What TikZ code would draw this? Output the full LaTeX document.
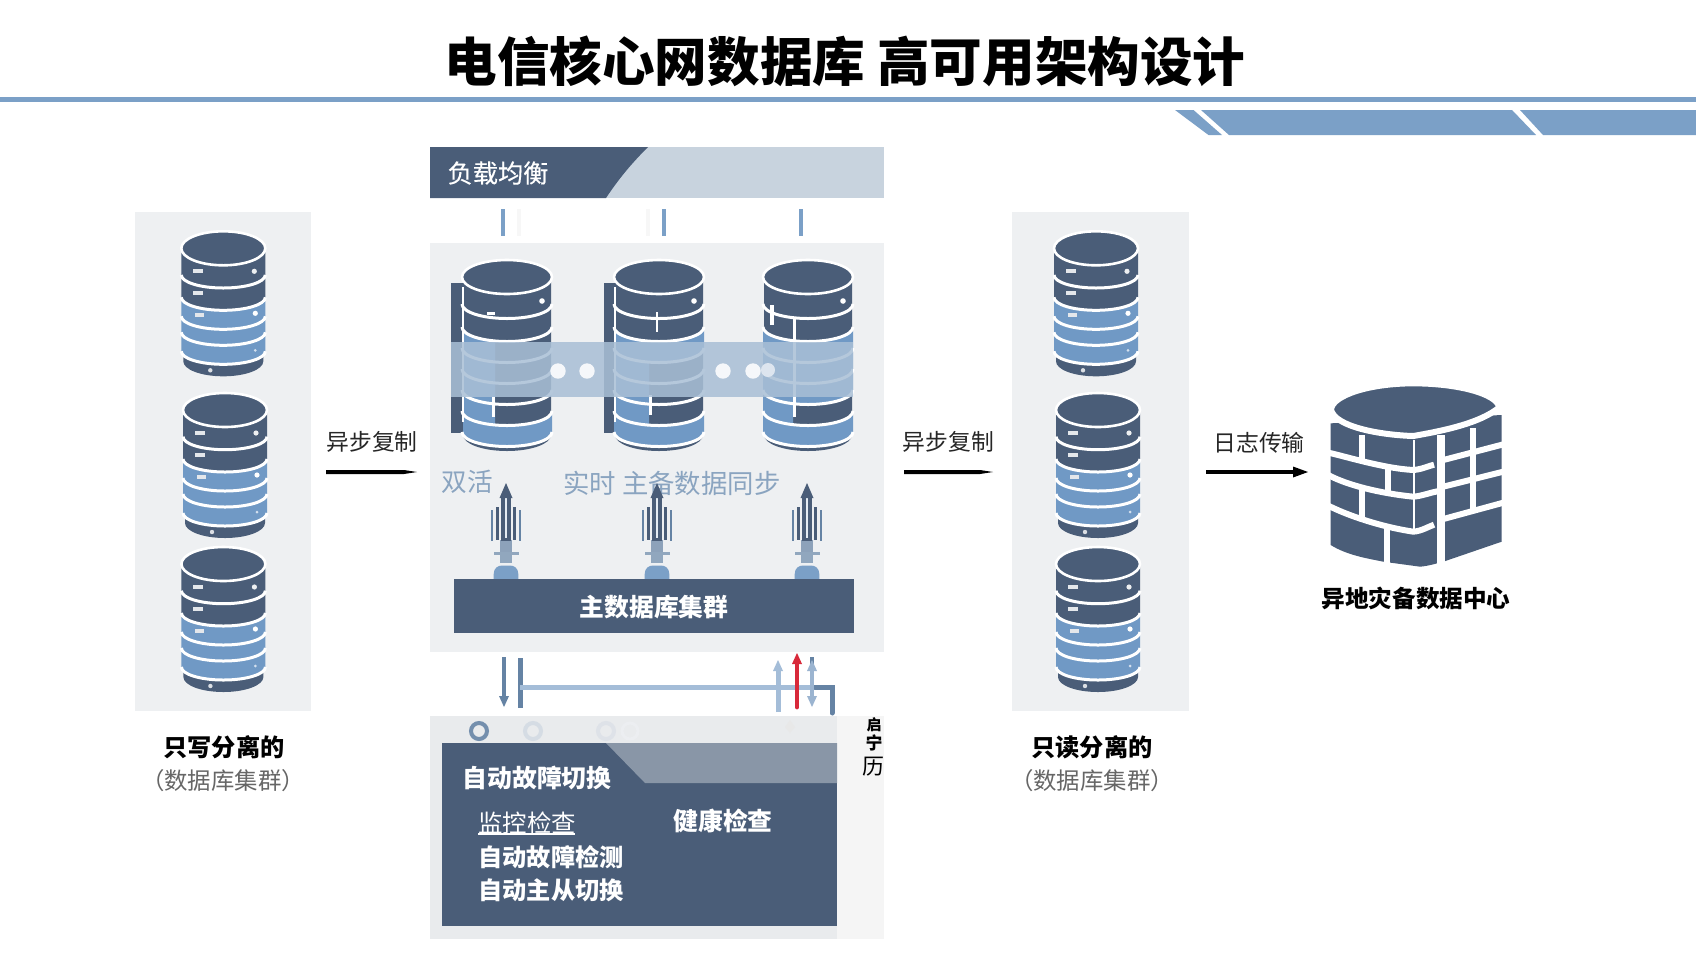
\documentclass[tikz,border=0pt]{standalone}
\usepackage{fontspec}
\setmainfont{Noto Sans CJK SC}
\newfontfamily\medfont[FakeBold=0.35]{Noto Sans CJK SC}
\definecolor{navy}{HTML}{4A5D78}
\definecolor{steel}{HTML}{7099C5}
\definecolor{rule}{HTML}{7BA0C7}
\definecolor{panel}{HTML}{EEF0F2}
\definecolor{lbar}{HTML}{C8D3DE}
\definecolor{wash}{HTML}{A9BFD6}
\definecolor{mute}{HTML}{8AA4C0}
\definecolor{wire}{HTML}{6583A4}
\definecolor{pale}{HTML}{A4BDD8}
\definecolor{alarm}{HTML}{D8293A}
\tikzset{
  panelbox/.style={fill=panel,draw=none},
  lbl/.style={inner sep=0pt,text=black!85,font=\fontsize{11.4}{13}\selectfont},
  hd/.style={inner sep=0pt,text=black,font=\fontsize{12.1}{14}\selectfont\bfseries},
  sub/.style={inner sep=0pt,text=black!60,font=\fontsize{11.7}{13}\selectfont},
  wt/.style={inner sep=0pt,text=white,font=\fontsize{12.4}{14}\selectfont\bfseries},
  wr/.style={inner sep=0pt,text=white,font=\fontsize{12.2}{14}\selectfont},
  crop/.style={inner sep=0pt,text=black},
}
\newcommand\ArcLR[3]{(-#1,#2) .. controls ({-#1},{#2+.5523*#3}) and ({-.5523*#1},{#2+#3}) .. (0,{#2+#3}) .. controls ({.5523*#1},{#2+#3}) and ({#1},{#2+.5523*#3}) .. ({#1},{#2})}
\newcommand\sidecyl[2]{%
\begin{scope}[shift={(#1,#2)}]
  \fill[navy] (-40,0) -- \ArcLR{40}{113}{15} -- (40,0) -- cycle;
  \fill[steel] (-42,49) -- \ArcLR{42}{103}{13} -- (42,49) -- cycle;
  \fill[navy] (-42,0) -- \ArcLR{42}{49}{13} -- (42,0) -- cycle;
  \foreach \e in {26.7,49,68,84,103}{
    \draw[white,line width=1.5pt] \ArcLR{42}{\e}{13};
  }
  \filldraw[navy,draw=white,line width=1.3pt] (0,0) ellipse[x radius=42,y radius=17];
  \fill[white!85!navy] (-30,21) rectangle (-20,25);
  \fill[white!85!navy] (-30,43) rectangle (-20,47);
  \fill[white!85!navy] (-28,65) rectangle (-19,69);
  \fill[white!90!navy] (31,23) circle[radius=2.6];
  \fill[white] (32,65) circle[radius=2.6];
  \fill[white!70!steel] (32,102) circle[radius=1.5];
  \fill[white!80!navy] (-13,122) circle[radius=2.2];
\end{scope}}
\newcommand\midband[6]{% xl xr e1 e2 colour R
  \begin{scope}\clip (#1,-30) rectangle (#2,220);
  \fill[#5] (-#6,#3) .. controls ({-#6},{#3+8}) and ({-.55*#6},{#3+14.5}) .. (0,{#3+14.5}) .. controls ({.55*#6},{#3+14.5}) and ({#6},{#3+8}) .. ({#6},{#3}) -- ({#6},{#4}) .. controls ({#6},{#4+8}) and ({.55*#6},{#4+14.5}) .. (0,{#4+14.5}) .. controls ({-.55*#6},{#4+14.5}) and ({-#6},{#4+8}) .. ({-#6},{#4}) -- cycle;
  \end{scope}}
\newcommand\midlines[1]{%
  \foreach \e in {27,50,71,92,113,134,155}{
    \draw[white,line width=1.5pt] \ArcLR{#1}{\e}{14.5};
  }
  \filldraw[navy,draw=white,line width=1.3pt] (0,0) ellipse[x radius=#1,y radius=17];
  \fill[white] (35,24) circle[radius=2.8];
}
\newcommand\jack[1]{%
\begin{scope}[shift={(#1,0)}]
  \fill[rule] (-12.3,579) -- (-12.3,574) .. controls (-12.3,568) and (-8,565.5) .. (-4,565.5) -- (4,565.5) .. controls (8,565.5) and (12.3,568) .. (12.3,574) -- (12.3,579) -- cycle;
  \fill[wash!75!navy] (-6,555) rectangle (6,563);
  \fill[wash!75!navy] (-12.5,551.5) rectangle (12.5,555);
  \fill[wash!70!navy] (-6,540) rectangle (6,551.5);
  \fill[navy] (-5,498) rectangle (5,541);
  \fill[white!70!wash] (-1,498) rectangle (1,538);
  \fill[navy] (0,483) -- (6.5,498) -- (-6.5,498) -- cycle;
  \fill[navy] (-9.8,507) rectangle (-7.4,540);
  \fill[navy] (7.4,507) rectangle (9.8,540);
  \fill[wire] (-14.6,510) rectangle (-13,541);
  \fill[wire] (13,510) rectangle (14.6,541);
\end{scope}}
\begin{document}
\begin{tikzpicture}[x=0.5pt,y=-0.5pt]
\useasboundingbox (0,0) rectangle (1696,960);
\fill[white] (0,0) rectangle (1696,960);
% header
\node[inner sep=0pt,text=black,font=\fontsize{26.3}{30}\selectfont\bfseries] (title) at (845,61) {电信核心网数据库 高可用架构设计};
\fill[rule] (0,97) rectangle (1696,101.5);
\fill[rule] (1175,110) -- (1193.5,110) -- (1222,135) -- (1208.5,135) -- cycle;
\fill[rule] (1201,110) -- (1512,110) -- (1536,135) -- (1229,135) -- cycle;
\fill[rule] (1520,110) -- (1696,110) -- (1696,135) -- (1543,135) -- cycle;
% panels
\fill[panelbox] (135,212) rectangle (311,711);
\fill[panelbox] (1012,212) rectangle (1189,711);
\fill[panelbox] (430,243) rectangle (884,652);
% left and right stacks
\sidecyl{223.3}{248.3}\sidecyl{225}{410}\sidecyl{223.4}{564}
\sidecyl{1096}{248.3}\sidecyl{1098}{410}\sidecyl{1098}{564}
% load balancer bar
\fill[lbar] (430,147) rectangle (884,198);
\fill[navy] (430,147) -- (648,147) .. controls (630,165) and (618,180) .. (606,198) -- (430,198) -- cycle;
\node[inner sep=0pt,text=white,font=\fontsize{12.6}{14}\selectfont\medfont] (lb) at (498,173) {负载均衡};
\foreach \tx in {519,648}{\fill[black!3] (\tx-2,209) rectangle (\tx+2,236);}
\foreach \tx in {503,664,801}{\fill[rule] (\tx-2,209) rectangle (\tx+2,236);}
% centre cylinders
\fill[navy] (451,283) rectangle (464,433);
\fill[navy] (604,283) rectangle (617,433);
\begin{scope}[shift={(507,277)}]
  \fill[navy] (-44,0) -- \ArcLR{44}{158}{16} -- (44,0) -- cycle;
  \midband{-44}{-12}{50}{134}{steel}{45}
  \midband{-44}{45}{134}{155}{steel}{45}
  \midlines{45}
  \fill[white] (-45,10) rectangle (-43,145);
  \fill[white] (-15,120) rectangle (-12.5,140);
  \fill[white] (-20,35) rectangle (-12,38);
\end{scope}
\begin{scope}[shift={(659,277)}]
  \fill[navy] (-44,0) -- \ArcLR{44}{158}{16} -- (44,0) -- cycle;
  \midband{-45}{45}{50}{71}{steel}{45}
  \midband{-45}{-10}{71}{134}{steel}{45}
  \midband{-45}{45}{134}{155}{steel}{45}
  \midlines{45}
  \fill[white] (-45,10) rectangle (-43,145);
  \fill[white] (-3,35) rectangle (-1,55);
  \fill[white] (-10,118) rectangle (-7,138);
\end{scope}
\begin{scope}[shift={(808,277)}]
  \fill[navy] (-44,0) -- \ArcLR{44}{158}{16} -- (44,0) -- cycle;
  \midband{-45}{45}{50}{113}{steel}{45}
  \midband{-45}{-15}{113}{134}{steel}{45}
  \midband{-45}{45}{134}{155}{steel}{45}
  \midlines{45}
  \fill[white] (-38,28) rectangle (-34,48);
  \fill[white] (-15,40) rectangle (-12.5,140);
\end{scope}
% sync band
\fill[wash,opacity=.86] (451,342) rectangle (853,397);
\foreach \dx in {558,587,723,753}{\fill[white!88!wash] (\dx,371) circle[radius=7.7];}
\fill[white!60!wash] (768,370) circle[radius=7];
% sync labels
\node[inner sep=0pt,text=mute,font=\fontsize{12.8}{15}\selectfont] (dual) at (467,482) {双活};
\node[inner sep=0pt,text=mute,font=\fontsize{13.2}{15}\selectfont] (sync) at (672,483) {实时 主备数据同步};
% cluster
\jack{506}\jack{657}\jack{807}
\node[fill=navy,minimum width=200pt,minimum height=27pt,inner sep=0pt] (cluster) at (654,606) {};
\node[wt] (clusterlabel) at (654,607) {主数据库集群};
% failover box
\fill[panel!98!black] (430,716) rectangle (884,939);
\fill[black!4] (837,716) rectangle (884,939);
\draw[wire!90!white,line width=2pt] (479,731) circle[radius=8];
\draw[color={rgb,255:red,213;green,220;blue,228},line width=2pt] (533,731) circle[radius=8];
\draw[color={rgb,255:red,222;green,226;blue,232},line width=2pt] (606,731) circle[radius=8];
\draw[color={rgb,255:red,236;green,238;blue,241},line width=1.5pt] (630,731) circle[radius=8];
\fill[black!9] (790,720) -- (795,727) -- (790,733) -- (785,727) -- cycle;
\fill[navy] (442,743) rectangle (837,926);
\fill[white!35!navy] (606,743) -- (645,783) -- (837,783) -- (837,743) -- cycle;
\node[wt] (foheader) at (537,778) {自动故障切换};
\node[wr,anchor=west] (mon) at (478,823) {监控检查};
\draw[white,line width=.6pt] (478,834) -- (575,834);
\node[wt,font=\fontsize{12.4}{14}\selectfont\bfseries] (health) at (723,821) {健康检查};
\node[wr,anchor=west,font=\fontsize{12.1}{14}\selectfont\bfseries] (det) at (478,857) {自动故障检测};
\node[wr,anchor=west,font=\fontsize{12.1}{14}\selectfont\bfseries] (sw) at (478,890) {自动主从切换};
% connectors between cluster and failover box
\coordinate (a1s) at (504,657); \coordinate (a1e) at (504,707);
\coordinate (a2s) at (520,658); \coordinate (a2e) at (520,708);
\coordinate (a3c) at (832,687);
\coordinate (a3e) at (832,713);
\draw[wire,line width=2.2pt] (a1s) -- (504,698);
\fill[wire] (a1e) -- (499,696) -- (509,696) -- cycle;
\draw[wire,line width=2.5pt] (a2s) -- (a2e);
\draw[pale,line width=2.5pt] (a2e |- a3c) -- (815,687);
\draw[wire,line width=2.5pt,line cap=round] (815,687) -- (a3c) -- (a3e);
\draw[pale,line width=2.5pt] (778,712) -- (778,668);
\fill[pale] (778,660) -- (773,671) -- (783,671) -- cycle;
\draw[alarm,line width=2.4pt,line cap=round] (797,707) -- (797,660);
\fill[alarm] (797,653) -- (792,664) -- (802,664) -- cycle;
\draw[wire,line width=2.4pt] (812,657) -- (812,670);
\draw[pale!85!wire,line width=2.4pt] (812,664) -- (812,698);
\fill[pale!85!wire] (812,660) -- (807,671) -- (817,671) -- cycle;
\fill[pale!85!wire] (812,707) -- (807,696) -- (817,696) -- cycle;
% cropped label
\node[crop,font=\fontsize{7.5}{8}\selectfont\bfseries] (crop1) at (874,725) {启};
\node[crop,font=\fontsize{8.5}{9}\selectfont\bfseries] (crop2) at (874,743) {宁};
\node[crop,font=\fontsize{11}{12}\selectfont] (crop3) at (873,767) {历};
% labels and arrows
\node[lbl] (rep1) at (372,442) {异步复制};
\coordinate (r1a) at (326,472); \coordinate (r1b) at (417,472);
\fill[black] (r1a) ++(0,-2) -- ++(78,0) -- (r1b) -- (404,474) -- (326,474) -- cycle;
\node[lbl] (rep2) at (948.5,442) {异步复制};
\coordinate (r2a) at (904,472); \coordinate (r2b) at (993,472);
\fill[black] (r2a) ++(0,-2) -- ++(76,0) -- (r2b) -- (980,474) -- (904,474) -- cycle;
\node[lbl] (logx) at (1259,443) {日志传输};
\coordinate (r3a) at (1206,472); \coordinate (r3b) at (1308,472);
\draw[black,line width=2pt] (r3a) -- (1295,472);
\fill[black] (r3b) -- (1293,466.5) -- (1293,477.5) -- cycle;
\node[hd] (w1) at (224,747) {只写分离的};
\node[sub] (w2) at (223,781) {（数据库集群）};
\node[hd] (r1) at (1092,747) {只读分离的};
\node[sub] (r2) at (1092,781) {（数据库集群）};
\node[hd,font=\fontsize{11.8}{14}\selectfont\bfseries] (dr) at (1416,598) {异地灾备数据中心};
% DR data centre
\begin{scope}[shift={(1180,360)},x=.16667pt,y=-.16667pt]
  \fill[navy] (452,190) -- (452,555) .. controls (500,585) and (560,595) .. (610,605) -- (720,620) .. controls (745,618) and (770,610) .. (790,605) -- (965,545) -- (965,165) -- cycle;
  \begin{scope}[white,line width=3pt]
    \draw (445,278) .. controls (500,290) and (610,325) .. (700,330) .. controls (725,328) and (745,318) .. (762,314);
    \draw (445,345) .. controls (500,375) and (600,400) .. (700,410) .. controls (725,408) and (750,398) .. (772,394);
    \draw (445,437) .. controls (500,465) and (600,500) .. (700,515) .. controls (725,513) and (745,500) .. (762,494);
    \draw (545,225) -- (545,300);
    \draw (625,325) -- (625,400);
    \draw (545,390) -- (545,470);
    \draw (622,500) -- (622,615);
    \draw[line width=1.2pt] (702,240) -- (702,510);
    \draw[line width=4pt] (783,225) -- (783,615);
    \draw (790,300) -- (970,253);
    \draw (790,380) -- (970,335);
    \draw (790,477) -- (970,428);
    \draw (880,205) -- (880,450);
  \end{scope}
  \filldraw[navy,draw=white,line width=3pt] (453,148) .. controls (458,105) and (570,70) .. (700,70) .. controls (830,70) and (950,100) .. (958,142) .. controls (900,190) and (790,212) .. (700,228) .. controls (600,225) and (462,200) .. (453,148) -- cycle;
\end{scope}
\end{tikzpicture}
\end{document}
